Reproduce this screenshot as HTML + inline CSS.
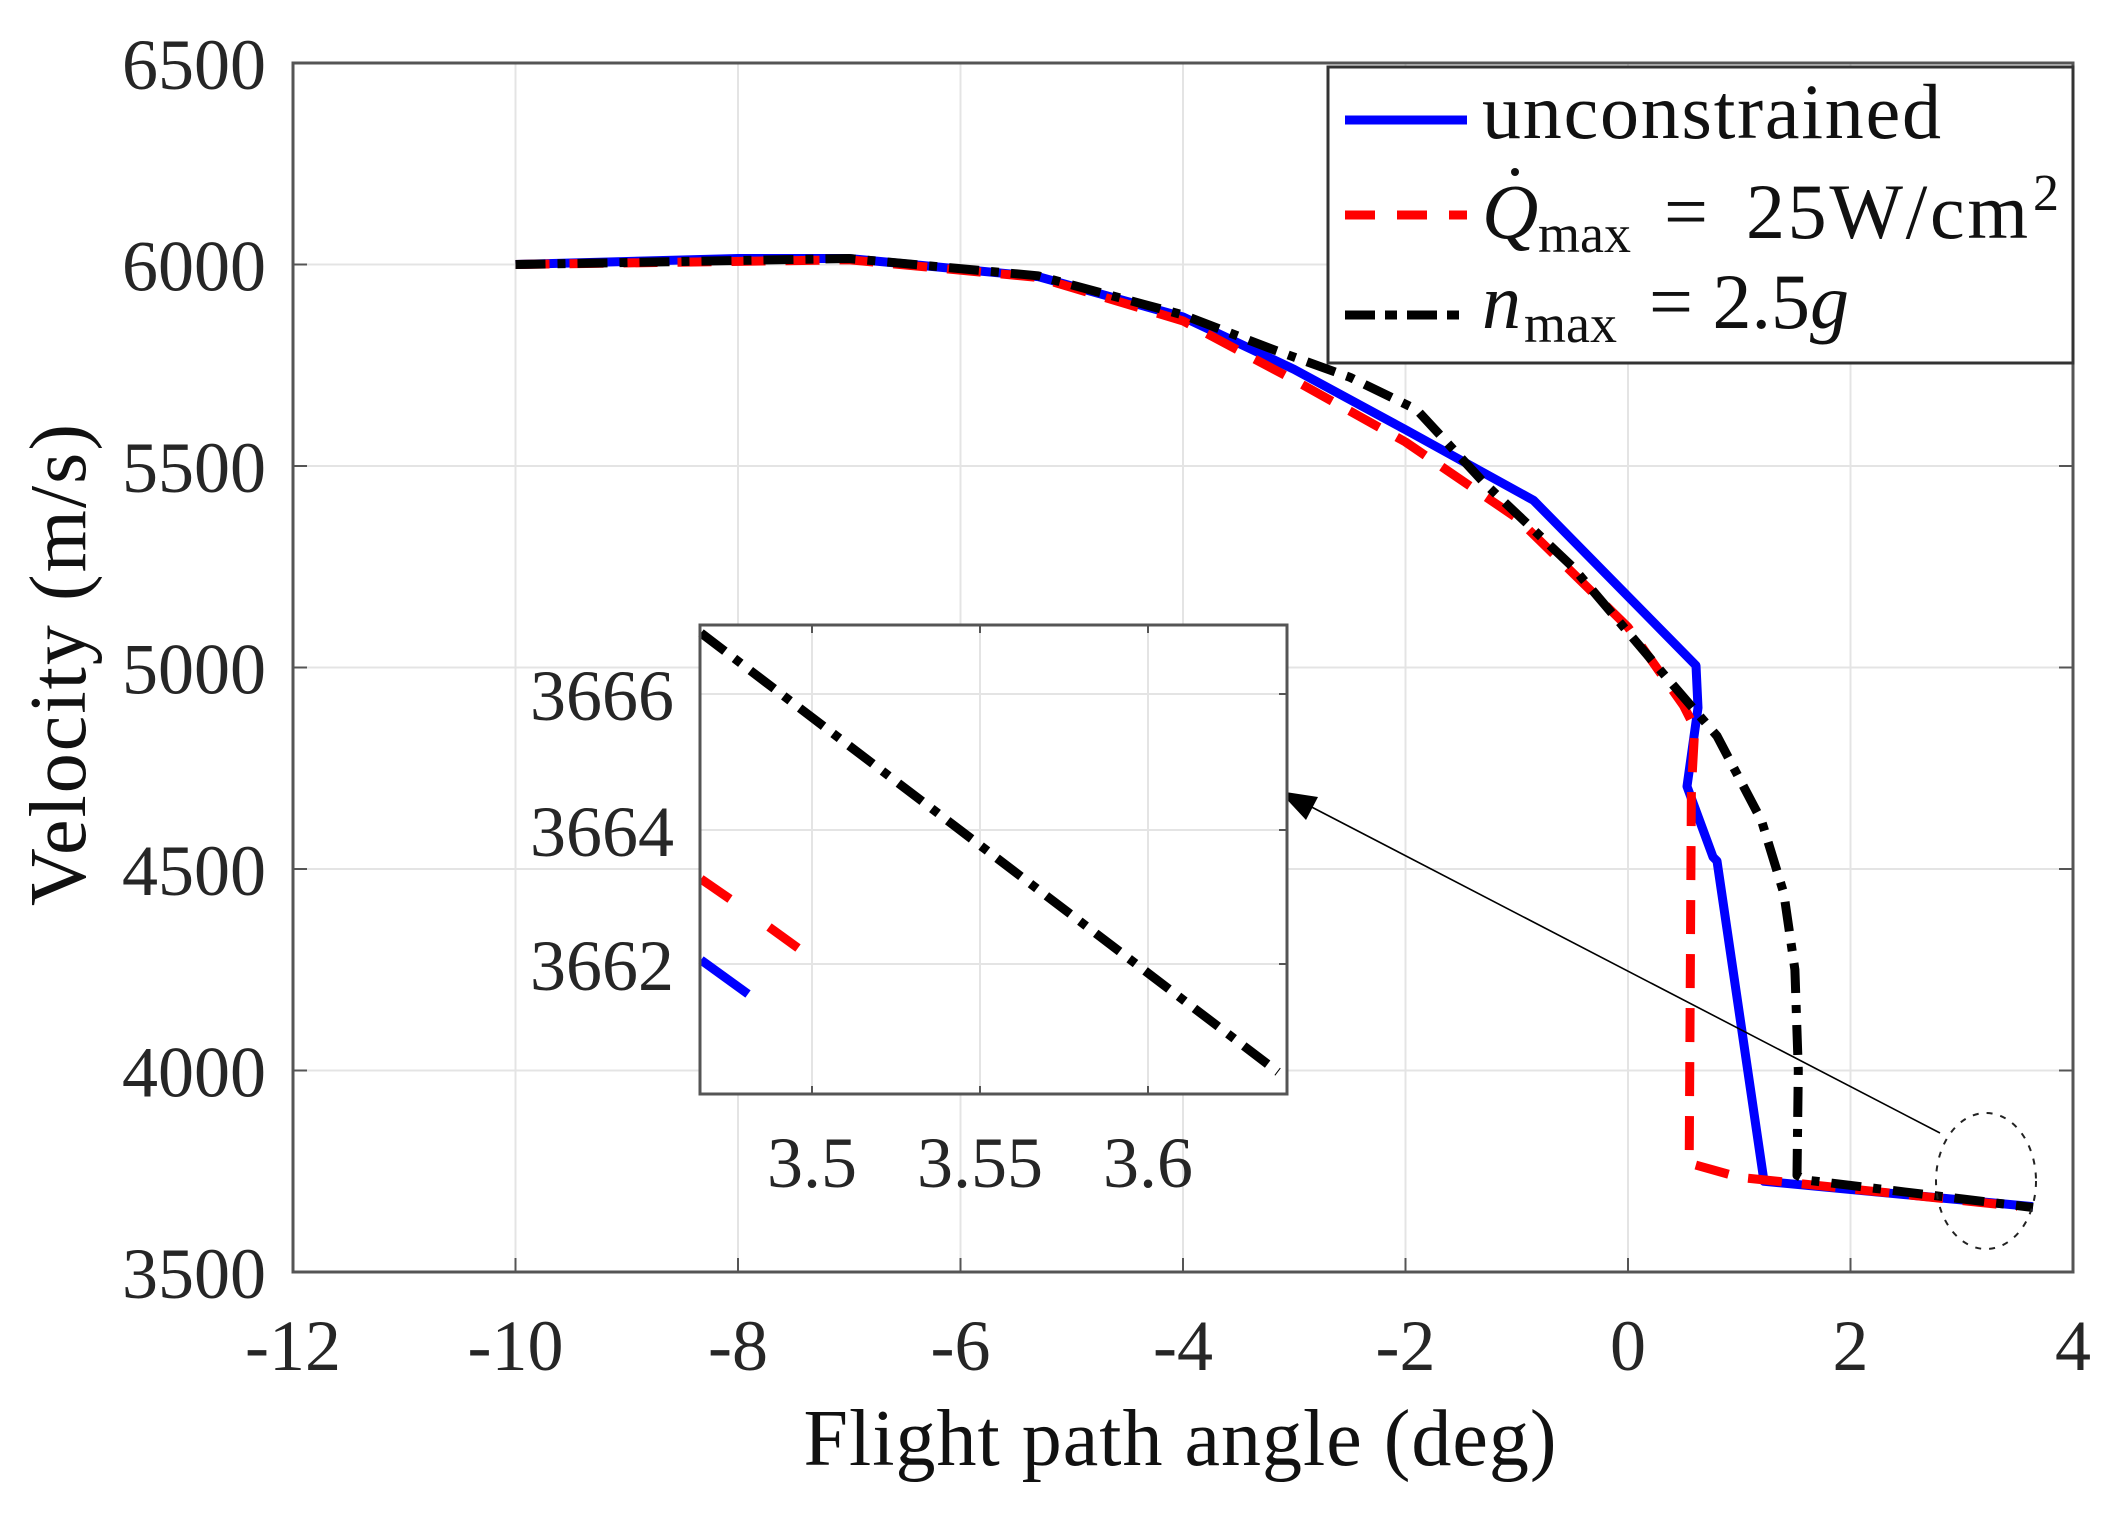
<!DOCTYPE html>
<html><head><meta charset="utf-8"><style>html,body{margin:0;padding:0;background:#fff}svg{display:block}</style></head>
<body>
<svg width="2128" height="1520" viewBox="0 0 2128 1520" xmlns="http://www.w3.org/2000/svg" font-family="'Liberation Serif', serif">
<rect width="2128" height="1520" fill="#fff"/>
<g stroke="#e4e4e4" stroke-width="2">
<line x1="515.5" y1="63" x2="515.5" y2="1272"/><line x1="738" y1="63" x2="738" y2="1272"/><line x1="960.5" y1="63" x2="960.5" y2="1272"/><line x1="1183" y1="63" x2="1183" y2="1272"/><line x1="1405.5" y1="63" x2="1405.5" y2="1272"/><line x1="1628" y1="63" x2="1628" y2="1272"/><line x1="1850.5" y1="63" x2="1850.5" y2="1272"/>
<line x1="293" y1="264.5" x2="2073" y2="264.5"/><line x1="293" y1="466" x2="2073" y2="466"/><line x1="293" y1="667.5" x2="2073" y2="667.5"/><line x1="293" y1="869" x2="2073" y2="869"/><line x1="293" y1="1070.5" x2="2073" y2="1070.5"/>
</g>
<g stroke="#555" stroke-width="2">
<line x1="515.5" y1="1272" x2="515.5" y2="1258"/><line x1="738" y1="1272" x2="738" y2="1258"/><line x1="960.5" y1="1272" x2="960.5" y2="1258"/><line x1="1183" y1="1272" x2="1183" y2="1258"/><line x1="1405.5" y1="1272" x2="1405.5" y2="1258"/><line x1="1628" y1="1272" x2="1628" y2="1258"/><line x1="1850.5" y1="1272" x2="1850.5" y2="1258"/>
<line x1="293" y1="264.5" x2="307" y2="264.5"/><line x1="293" y1="466" x2="307" y2="466"/><line x1="293" y1="667.5" x2="307" y2="667.5"/><line x1="293" y1="869" x2="307" y2="869"/><line x1="293" y1="1070.5" x2="307" y2="1070.5"/>
<line x1="2073" y1="264.5" x2="2059" y2="264.5"/><line x1="2073" y1="466" x2="2059" y2="466"/><line x1="2073" y1="667.5" x2="2059" y2="667.5"/><line x1="2073" y1="869" x2="2059" y2="869"/><line x1="2073" y1="1070.5" x2="2059" y2="1070.5"/>
</g>
<rect x="293" y="63" width="1780" height="1209" fill="none" stroke="#555" stroke-width="3"/>
<g font-size="72" fill="#262626" text-anchor="middle">
<text x="293" y="1370">-12</text><text x="515.5" y="1370">-10</text><text x="738" y="1370">-8</text><text x="960.5" y="1370">-6</text><text x="1183" y="1370">-4</text><text x="1405.5" y="1370">-2</text><text x="1628" y="1370">0</text><text x="1850.5" y="1370">2</text><text x="2073" y="1370">4</text>
</g>
<g font-size="72" fill="#262626" text-anchor="end">
<text x="266" y="89">6500</text><text x="266" y="290.5">6000</text><text x="266" y="492">5500</text><text x="266" y="693.5">5000</text><text x="266" y="895">4500</text><text x="266" y="1096.5">4000</text><text x="266" y="1298">3500</text>
</g>
<text x="1180" y="1465" font-size="80" text-anchor="middle" fill="#111" textLength="753">Flight path angle (deg)</text>
<text transform="translate(85,665) rotate(-90)" font-size="80" text-anchor="middle" fill="#111" textLength="482">Velocity (m/s)</text>
<g fill="none" stroke-width="9" stroke-linejoin="round">
<polyline stroke="#0000ff" points="515.5,264.5 738,258.5 849,258.5 1038,276.6 1183,317 1294,369.3 1405.5,429.7 1533.5,500.3 1696,665.5 1698,707.8 1687,786.4 1713,857 1717,861 1764,1181.3 2033,1206.7"/>
<polyline stroke="#ff0000" stroke-dasharray="34 20" points="515.5,264.5 849,259.8 1038,277.4 1183,320.9 1294,380 1405.5,442 1516.8,518 1628,627.2 1683.6,705.8 1694.8,727.9 1691.4,788.4 1689.2,1163.2 1739.3,1177.3 2017.4,1206.3"/>
<polyline stroke="#000" stroke-dasharray="30 12 8 12" points="515.5,264.5 849,258.5 1038,275.8 1183,314.9 1272,349.1 1350,377.3 1416.6,409.6 1483.4,482.1 1572.4,566.7 1661.4,671.5 1717,736 1761.5,820.6 1783.8,893.2 1794.9,969.7 1798.3,1070.5 1797,1175.3 1806,1180 2033,1207.5"/>
</g>
<ellipse cx="1986" cy="1181" rx="50" ry="68" fill="none" stroke="#222" stroke-width="2" stroke-dasharray="6 8"/>
<line x1="1940" y1="1133" x2="1300" y2="801" stroke="#000" stroke-width="1.6"/>
<polygon points="1279,791 1318,797 1306,820" fill="#000"/>
<rect x="700" y="625" width="587" height="469" fill="#fff"/>
<g stroke="#e4e4e4" stroke-width="2">
<line x1="812" y1="625" x2="812" y2="1094"/><line x1="980" y1="625" x2="980" y2="1094"/><line x1="1148" y1="625" x2="1148" y2="1094"/>
<line x1="700" y1="694" x2="1287" y2="694"/><line x1="700" y1="830" x2="1287" y2="830"/><line x1="700" y1="964" x2="1287" y2="964"/>
</g>
<g stroke="#555" stroke-width="2">
<line x1="812" y1="1094" x2="812" y2="1086"/><line x1="980" y1="1094" x2="980" y2="1086"/><line x1="1148" y1="1094" x2="1148" y2="1086"/>
<line x1="812" y1="625" x2="812" y2="633"/><line x1="980" y1="625" x2="980" y2="633"/><line x1="1148" y1="625" x2="1148" y2="633"/>
<line x1="1287" y1="694" x2="1279" y2="694"/><line x1="1287" y1="830" x2="1279" y2="830"/><line x1="1287" y1="964" x2="1279" y2="964"/>
</g>
<g stroke-width="9" fill="none">
<line x1="701" y1="633" x2="1278" y2="1072" stroke="#000" stroke-dasharray="30 12 8 12"/>
<line x1="701" y1="879" x2="730" y2="899" stroke="#ff0000"/>
<line x1="769" y1="927" x2="798" y2="948" stroke="#ff0000"/>
<line x1="701" y1="960" x2="748" y2="994" stroke="#0000ff"/>
</g>
<rect x="700" y="625" width="587" height="469" fill="none" stroke="#555" stroke-width="3"/>
<g font-size="72" fill="#262626" text-anchor="end">
<text x="674" y="720">3666</text><text x="674" y="856">3664</text><text x="674" y="990">3662</text>
</g>
<g font-size="72" fill="#262626" text-anchor="middle">
<text x="812" y="1187">3.5</text><text x="980" y="1187">3.55</text><text x="1148" y="1187">3.6</text>
</g>
<rect x="1328" y="67" width="745" height="296" fill="#fff" stroke="#333" stroke-width="3"/>
<line x1="1345" y1="120" x2="1467" y2="120" stroke="#0000ff" stroke-width="9"/>
<line x1="1345" y1="215" x2="1467" y2="215" stroke="#ff0000" stroke-width="9" stroke-dasharray="30 22"/>
<line x1="1345" y1="315" x2="1467" y2="315" stroke="#000" stroke-width="9" stroke-dasharray="30 10 12 10"/>
<g fill="#111">
<text x="1482" y="138" font-size="78" textLength="459">unconstrained</text>
<text x="1482" y="238" font-size="78" font-style="italic">Q</text>
<circle cx="1515" cy="172" r="4"/>
<text x="1538" y="252" font-size="54">max</text>
<text x="1664" y="238" font-size="78">=</text>
<text x="1746" y="238" font-size="78" textLength="282">25W/cm</text>
<text x="2033" y="210" font-size="52">2</text>
<text x="1482" y="328" font-size="78" font-style="italic">n</text>
<text x="1524" y="342" font-size="54">max</text>
<text x="1649" y="328" font-size="78">= 2.5<tspan font-style="italic">g</tspan></text>
</g>
</svg>
</body></html>
